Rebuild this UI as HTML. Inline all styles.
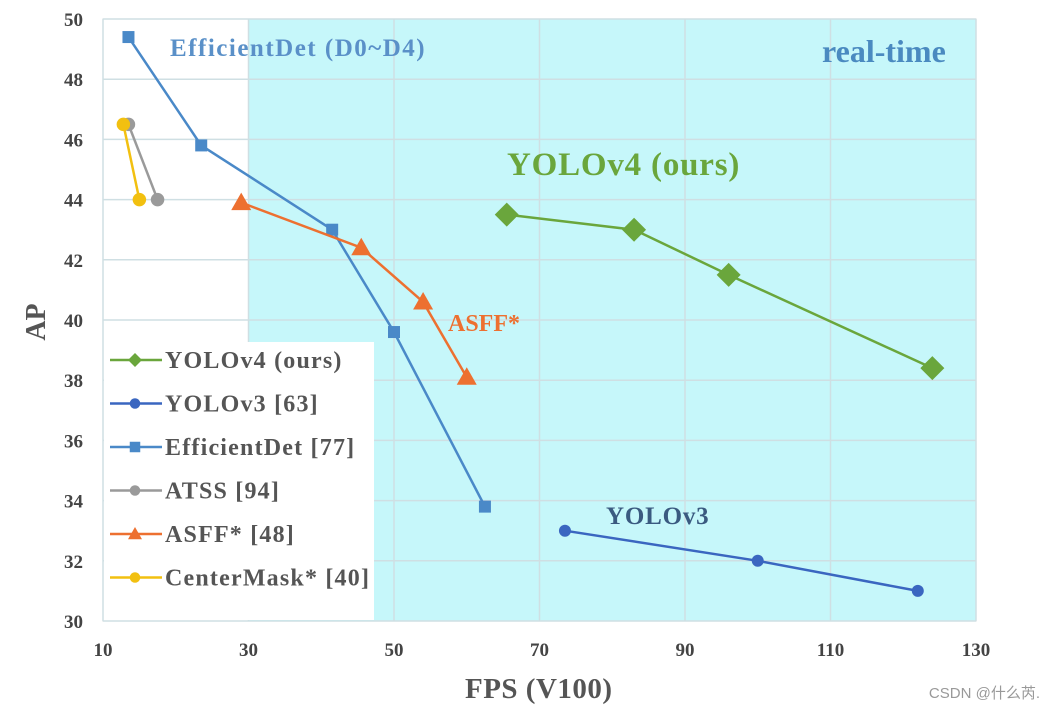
<!DOCTYPE html>
<html><head><meta charset="utf-8"><style>
body{margin:0;background:#fff;}
svg{display:block;font-family:"Liberation Serif",serif;font-weight:bold;}
</style></head><body>
<svg id="chart" width="1050" height="710" viewBox="0 0 1050 710"></svg>
<script>
const xTicks=[10,30,50,70,90,110,130];
const yTicks=[30,32,34,36,38,40,42,44,46,48,50];
const seriesNames=["YOLOv4 (ours)","YOLOv3 [63]","EfficientDet [77]","ATSS [94]","ASFF* [48]","CenterMask* [40]"];
const yolov4X=[65.5,83,96,124];
const yolov4Y=[43.5,43.0,41.5,38.4];
const yolov3X=[73.5,100,122];
const yolov3Y=[33.0,32.0,31.0];
const effX=[13.5,23.5,41.5,50,62.5];
const effY=[49.4,45.8,43.0,39.6,33.8];
const atssX=[13.5,17.5];
const atssY=[46.5,44.0];
const asffX=[29,45.5,54,60];
const asffY=[43.9,42.4,40.6,38.1];
const cmX=[12.8,15];
const cmY=[46.5,44.0];

const L=103,R=976,T=19,B=621;
const xs=v=>L+(v-10)/120*(R-L);
const ys=v=>B-(v-30)/20*(B-T);
const svg=document.getElementById('chart');
const NS='http://www.w3.org/2000/svg';
function mk(tag,attrs,parent){const e=document.createElementNS(NS,tag);for(const k in attrs)e.setAttribute(k,attrs[k]);(parent||svg).appendChild(e);return e;}

let bg=mk('rect',{x:L,y:T,width:R-L,height:B-T,fill:'#ffffff',stroke:'#d0d0d0'});


let rt=mk('rect',{x:xs(30),y:T,width:R-xs(30),height:B-T,fill:'#c6f7fa'});



xTicks.forEach(t=>{
  let g=mk('line',{x1:xs(t),x2:xs(t),y1:T,y2:B,stroke:'#cfdfe3','stroke-width':1.5});
  
  
  let tx=mk('text',{x:xs(t),y:B+35,'text-anchor':'middle','font-size':19,fill:'#444'});
  tx.textContent=t;
  
  
});
yTicks.forEach(t=>{
  let g=mk('line',{x1:L,x2:R,y1:ys(t),y2:ys(t),stroke:'#cfdfe3','stroke-width':1.5});
  
  
  let tx=mk('text',{x:L-20,y:ys(t)+7,'text-anchor':'end','font-size':19,fill:'#444'});
  tx.textContent=t;
  
  
});

let lb=mk('rect',{x:L+1,y:342,width:270,height:B-343,fill:'#ffffff'});



function marker(type,x,y,c,s,p){
  if(type==='d')return mk('polygon',{points:`${x},${y-s} ${x+s},${y} ${x},${y+s} ${x-s},${y}`,fill:c},p);
  if(type==='s')return mk('rect',{x:x-s*0.75,y:y-s*0.75,width:s*1.5,height:s*1.5,fill:c},p);
  if(type==='t')return mk('polygon',{points:`${x},${y-s} ${x+s},${y+s*0.75} ${x-s},${y+s*0.75}`,fill:c},p);
  return mk('circle',{cx:x,cy:y,r:s*0.75,fill:c},p);
}
function series(name,X,Y,c,type,size){
  const g=mk('g',{});
  
  
  mk('polyline',{points:X.map((v,i)=>xs(v)+','+ys(Y[i])).join(' '),fill:'none',stroke:c,'stroke-width':2.5},g);
  X.forEach((v,i)=>{
    const m=marker(type,xs(v),ys(Y[i]),c,size,g);
    
    
  });
}
series('efficientdet-series',effX,effY,'#4a89c8','s',8);
series('atss-series',atssX,atssY,'#9a9a9a','c',9);
series('centermask-series',cmX,cmY,'#f2c010','c',9);
series('asff-series',asffX,asffY,'#ed7030','t',10);
series('yolov4-series',yolov4X,yolov4Y,'#6aa63c','d',12);
series('yolov3-series',yolov3X,yolov3Y,'#3a66c0','c',8);

const legColors=['#6aa63c','#3a66c0','#4a89c8','#9a9a9a','#ed7030','#f2c010'];
const legTypes=['d','c','s','c','t','c'];
seriesNames.forEach((n,i)=>{
  const y=360+i*43.5;
  const g=mk('g',{});
  
  
  mk('line',{x1:110,x2:162,y1:y,y2:y,stroke:legColors[i],'stroke-width':2.5},g);
  marker(legTypes[i],135,y,legColors[i],7,g);
  const t=mk('text',{x:165,y:y+8,'font-size':24,'letter-spacing':1.2,fill:'#555'},g);
  t.textContent=n;
});

function label(txt,x,y,size,c,name,ls){
  const t=mk('text',{x:x,y:y,'font-size':size,fill:c,'letter-spacing':ls||0});
  t.textContent=txt;
  
  
}
label('EfficientDet (D0~D4)',170,56,25,'#5a90c8','efficientdet-annotation',1.5);
label('real-time',822,62,32,'#4a8ac0','real-time-annotation');
label('YOLOv4 (ours)',507,175,33,'#6aa63c','yolov4-annotation',0.8);
label('ASFF*',448,331,24,'#ed7030','asff-annotation');
label('YOLOv3',606,524,25,'#3a5a80','yolov3-annotation',0.8);
label('FPS (V100)',465,698,29,'#555','x-axis-title',0.5);
const yt=mk('text',{x:45,y:322,'font-size':28,fill:'#555','text-anchor':'middle',transform:'rotate(-90 45 322)'});
yt.textContent='AP';


const wm=mk('text',{x:1040,y:698,'font-size':15,fill:'#999','text-anchor':'end','font-weight':'normal','font-family':'"Liberation Sans","Noto Sans CJK SC",sans-serif'});
wm.textContent='CSDN @什么芮.';


</script>
</body></html>
